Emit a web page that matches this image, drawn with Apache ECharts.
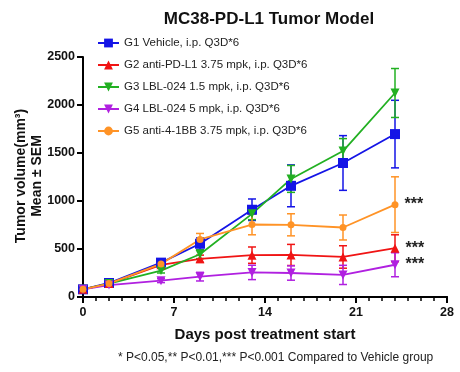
<!DOCTYPE html>
<html><head><meta charset="utf-8">
<script src="https://cdn.jsdelivr.net/npm/echarts@6/dist/echarts.min.js"></script>
<style>html,body{margin:0;padding:0;background:#fff}#c{width:460px;height:372px}</style>
</head><body><div id="c"></div>
<script>
const days = [0, 2, 6, 9, 13, 16, 20, 24];
const xTicks = [0, 7, 14, 21, 28];
const yTicks = [0, 500, 1000, 1500, 2000, 2500];
const names = [
  'G1 Vehicle, i.p. Q3D*6',
  'G2 anti-PD-L1 3.75 mpk, i.p. Q3D*6',
  'G3 LBL-024 1.5 mpk, i.p. Q3D*6',
  'G4 LBL-024 5 mpk, i.p. Q3D*6',
  'G5 anti-4-1BB 3.75 mpk, i.p. Q3D*6'
];
const g1Mean = [80, 146, 358, 555, 909, 1158, 1396, 1697];
const g1Sem  = [15, 20, 30, 60, 112, 218, 285, 352];
const g2Mean = [80, 140, 335, 398, 436, 438, 417, 508];
const g2Sem  = [12, 18, 28, 38, 85, 110, 117, 140];
const g3Mean = [80, 140, 275, 445, 866, 1230, 1520, 2125];
const g3Sem  = [12, 18, 25, 45, 60, 140, 130, 255];
const g4Mean = [80, 124, 170, 212, 256, 250, 230, 336];
const g4Sem  = [10, 15, 20, 45, 75, 75, 100, 125];
const g5Mean = [80, 140, 345, 600, 755, 752, 724, 962];
const g5Sem  = [12, 18, 28, 62, 107, 115, 130, 290];
const signif = ['', '***', '', '***', '***'];
const colors = ['#1414e6', '#f01414', '#22b022', '#b020e0', '#ff9326'];
const symbols = ['rect', 'triangle', 'path://M0,0 L10,0 L5,9 Z', 'path://M0,0 L10,0 L5,9 Z', 'circle'];
const symSizes = [10, 9, 9, 9, 7];
const means = [g1Mean, g2Mean, g3Mean, g4Mean, g5Mean];
const sems = [g1Sem, g2Sem, g3Sem, g4Sem, g5Sem];

const series = [];
means.forEach((m, i) => {
  series.push({
    type: 'custom', name: 'sem' + i, z: 3, silent: true,
    itemStyle: { color: colors[i] },
    data: days.map((d, k) => [d, m[k], sems[i][k]]),
    renderItem: function (params, api) {
      const x = api.value(0), y = api.value(1), s = api.value(2);
      const top = api.coord([x, y + s]);
      const bot = api.coord([x, Math.max(0, y - s)]);
      const w = 4;
      const st = { stroke: colors[i], lineWidth: 1.5 };
      return { type: 'group', children: [
        { type: 'line', shape: { x1: top[0], y1: top[1], x2: bot[0], y2: bot[1] }, style: st },
        { type: 'line', shape: { x1: top[0] - w, y1: top[1], x2: top[0] + w, y2: top[1] }, style: st },
        { type: 'line', shape: { x1: bot[0] - w, y1: bot[1], x2: bot[0] + w, y2: bot[1] }, style: st }
      ]};
    }
  });
});
means.forEach((m, i) => {
  series.push({
    type: 'line', name: names[i], z: 4,
    symbol: symbols[i], symbolSize: symSizes[i],
    itemStyle: { color: colors[i] },
    lineStyle: { color: colors[i], width: 1.8 },
    data: days.map((d, k) => {
      const item = { value: [d, m[k]] };
      if (k === days.length - 1 && signif[i]) {
        item.label = { show: true, formatter: signif[i], position: 'right', distance: 6,
          fontSize: 16, fontWeight: 'bold', color: '#222', fontFamily: 'Liberation Sans, Arial' };
      }
      return item;
    })
  });
});
// minor day ticks on an overlaid axis
series.push({ type: 'line', name: 'minor', xAxisIndex: 1, data: [[0, 0], [28, 0]], symbol: 'none',
  lineStyle: { opacity: 0 }, silent: true });

const chart = echarts.init(document.getElementById('c'));
chart.setOption({
  animation: false,
  backgroundColor: '#fff',
  textStyle: { fontFamily: 'Liberation Sans, Arial, sans-serif' },
  title: {
    text: 'MC38-PD-L1 Tumor Model', left: 264, top: 6, textAlign: 'center',
    textStyle: { fontSize: 17, fontWeight: 'bold', color: '#111' }
  },
  legend: {
    data: names, orient: 'vertical', left: 92, top: 32, itemGap: 10,
    itemWidth: 21, itemHeight: 11,
    textStyle: { fontSize: 11.5, color: '#222' }
  },
  grid: { left: 83, right: 13, top: 57, bottom: 75, containLabel: false, outerBoundsMode: 'none' },
  xAxis: [{
    type: 'value', min: xTicks[0], max: xTicks[xTicks.length - 1], interval: 7,
    name: 'Days post treatment start', nameLocation: 'middle', nameGap: 30,
    nameTextStyle: { fontSize: 15, fontWeight: 'bold', color: '#111' },
    axisLine: { lineStyle: { color: '#000', width: 2 } },
    axisTick: { length: 6, lineStyle: { color: '#000', width: 2 } },
    axisLabel: { fontSize: 12.5, fontWeight: 'bold', color: '#111', margin: 9 },
    splitLine: { show: false }
  }, {
    type: 'value', position: 'bottom', min: 0, max: 28, interval: 1,
    axisLine: { show: true, lineStyle: { color: '#000', width: 2 } },
    axisTick: { show: true, interval: 0, length: 4, lineStyle: { color: '#000', width: 1.5 } },
    axisLabel: { show: false }, splitLine: { show: false }
  }],
  yAxis: {
    type: 'value', min: yTicks[0], max: yTicks[yTicks.length - 1], interval: 500,
    axisLine: { show: true, lineStyle: { color: '#000', width: 2 } },
    axisTick: { show: true, length: 6, lineStyle: { color: '#000', width: 2 } },
    axisLabel: { fontSize: 12.5, fontWeight: 'bold', color: '#111', margin: 8,
      formatter: v => String(v) },
    splitLine: { show: false }
  },
  graphic: [{
    type: 'text', x: 29, y: 176, rotation: Math.PI / 2,
    style: { text: 'Tumor volume(mm³)\nMean ± SEM', fontSize: 14, fontWeight: 'bold',
      lineHeight: 16, align: 'center', verticalAlign: 'middle', fill: '#111',
      fontFamily: 'Liberation Sans, Arial' }
  }, {
    type: 'text', left: 118, top: 352,
    style: { text: '* P<0.05,** P<0.01,*** P<0.001 Compared to Vehicle group', fontSize: 12,
      fill: '#222', fontFamily: 'Liberation Sans, Arial' }
  }],
  series: series
});
</script></body></html>
